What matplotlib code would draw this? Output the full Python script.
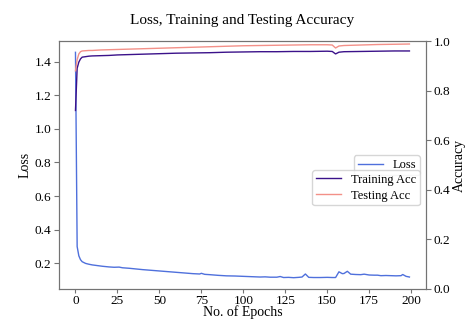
import matplotlib
matplotlib.use("Agg")
import matplotlib.pyplot as plt

plt.rcParams["font.family"] = ["Liberation Serif", "DejaVu Serif"]

# Loss readings (epoch, value)
loss_epochs = [0, 1, 2, 3, 4, 5, 6, 8, 10, 13, 16, 20, 23, 26, 28, 32, 36, 40, 45, 50,
               55, 60, 65, 70, 74, 75, 77, 80, 85, 90, 95, 100, 105, 110, 113, 116, 120,
               122, 124, 127, 130, 133, 135, 137, 139, 142, 146, 150, 153, 155, 157, 159,
               160, 162, 164, 167, 170, 172, 175, 178, 180, 182, 185, 188, 191, 194, 195,
               197, 199]
loss_values = [1.455, 0.30, 0.245, 0.222, 0.21, 0.205, 0.2, 0.195, 0.191, 0.187, 0.183,
               0.179, 0.177, 0.178, 0.174, 0.171, 0.167, 0.163, 0.159, 0.155, 0.151, 0.147,
               0.143, 0.139, 0.137, 0.141, 0.135, 0.133, 0.129, 0.126, 0.125, 0.123, 0.121,
               0.119, 0.12, 0.118, 0.118, 0.122, 0.116, 0.117, 0.115, 0.117, 0.119, 0.137,
               0.117, 0.116, 0.116, 0.117, 0.116, 0.116, 0.15, 0.139, 0.14, 0.153, 0.136,
               0.134, 0.133, 0.136, 0.131, 0.13, 0.13, 0.127, 0.128, 0.127, 0.126, 0.127,
               0.134, 0.123, 0.119]

# Accuracy readings
acc_epochs = [0, 1, 2, 3, 4, 6, 8, 10, 15, 20, 25, 30, 40, 50, 60, 70, 80, 90, 100, 110,
              120, 130, 140, 150, 153, 155, 157, 160, 170, 180, 190, 199]
train_acc = [0.72, 0.89, 0.915, 0.928, 0.935, 0.937, 0.939, 0.94, 0.941, 0.942, 0.944,
             0.945, 0.947, 0.949, 0.951, 0.952, 0.953, 0.955, 0.956, 0.957, 0.957, 0.958,
             0.958, 0.959, 0.958, 0.948, 0.955, 0.957, 0.958, 0.959, 0.96, 0.96]
test_acc = [0.88, 0.925, 0.948, 0.957, 0.96, 0.961, 0.962, 0.962, 0.964, 0.965, 0.966,
            0.967, 0.969, 0.971, 0.973, 0.975, 0.977, 0.979, 0.981, 0.982, 0.983, 0.984,
            0.985, 0.985, 0.984, 0.972, 0.98, 0.982, 0.984, 0.986, 0.987, 0.988]

fig, ax = plt.subplots(figsize=(4.74, 3.31), dpi=100)
fig.subplots_adjust(left=0.124, right=0.899, bottom=0.127, top=0.876)
ax2 = ax.twinx()

ax.plot(loss_epochs, loss_values, color="#4f70dc", lw=1.0, label="Loss")
ax2.plot(acc_epochs, train_acc, color="#3b128a", lw=1.0, label="Training Acc")
ax2.plot(acc_epochs, test_acc, color="#f39088", lw=1.0, label="Testing Acc")

ax2.set_ylim(0, 1)
ax.set_xticks(range(0, 201, 25))
ax.set_yticks([0.2, 0.4, 0.6, 0.8, 1.0, 1.2, 1.4])

ax.set_title("Loss, Training and Testing Accuracy", fontsize=11, pad=12)
ax.set_xlabel("No. of Epochs", fontsize=10, labelpad=-1)
ax.set_ylabel("Loss", fontsize=10, labelpad=2)
ax2.set_ylabel("Accuracy", fontsize=10, labelpad=2)

for a in (ax, ax2):
    a.tick_params(labelsize=9.5, color="0.45", length=3.5, pad=2)
    for s in a.spines.values():
        s.set_color("0.45")
ax.tick_params(axis="x", length=3, pad=1)

ax.legend(loc="center right", fontsize=9, handlelength=2, borderpad=0.3,
          labelspacing=0.3, framealpha=0.8)
ax2.legend(loc="upper right", bbox_to_anchor=(1, 0.505), fontsize=9, handlelength=2,
           borderpad=0.3, labelspacing=0.3, framealpha=0.8)

fig.savefig("out.png", dpi=100)
